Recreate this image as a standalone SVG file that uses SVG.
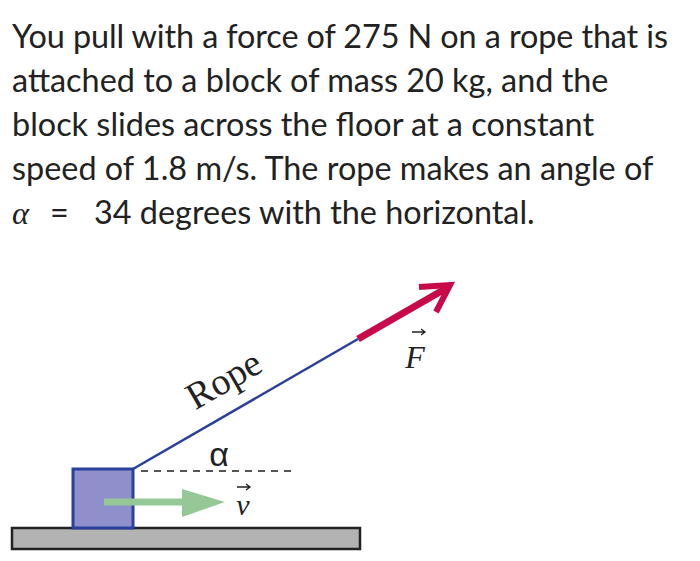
<svg xmlns="http://www.w3.org/2000/svg" width="700" height="561" viewBox="0 0 700 561">
<style>
.t{font-family:Lato,"Open Sans",sans-serif;font-size:32.4px;fill:#222}
.s{font-family:"Liberation Serif",serif;fill:#222}
.va{stroke:#222;stroke-width:1.3;fill:none}
</style>
<rect width="700" height="561" fill="#fff"/>
<g id="text">
<text class="t" x="12" y="48" textLength="656">You pull with a force of 275 N on a rope that is</text>
<text class="t" x="12" y="92">attached to a block of mass 20 kg, and the</text>
<text class="t" x="12" y="136">block slides across the floor at a constant</text>
<text class="t" x="12" y="180">speed of 1.8 m/s. The rope makes an angle of</text>
<text class="t" x="12" y="224"><tspan font-family="Liberation Serif,serif" font-style="italic">α</tspan><tspan x="50">=</tspan><tspan x="94">34 degrees with the horizontal.</tspan></text>
</g>
<g id="floor"><rect x="12" y="528" width="348" height="21" fill="#b3b3b3" stroke="#222" stroke-width="2.5"/></g>
<g id="block"><rect x="73" y="469" width="60" height="59" fill="#8f8fcc" stroke="#2b3f9c" stroke-width="3"/></g>
<g id="connectors">
<line x1="133" y1="469" x2="358" y2="339" stroke="#2b3f9c" stroke-width="2.5"/>
<line x1="358" y1="339" x2="445" y2="289" stroke="#c80a4a" stroke-width="7"/>
<path d="M419,287 L450,285 L436,312" fill="none" stroke="#c80a4a" stroke-width="6" stroke-linejoin="miter"/>
<line x1="141" y1="471" x2="292" y2="471" stroke="#555" stroke-width="2" stroke-dasharray="7,6"/>
<line x1="104" y1="502" x2="184" y2="502" stroke="#96c796" stroke-width="7"/>
<polygon points="182,489 225,502 182,517" fill="#96c796"/>
</g>
<g id="labels">
<text class="s" x="224" y="392" font-size="38" text-anchor="middle" transform="rotate(-30 224 380)">Rope</text>
<text x="219" y="466" font-family="Liberation Sans,sans-serif" font-size="34" text-anchor="middle" fill="#222">α</text>
<text class="s" x="243" y="515" font-size="30" font-style="italic" text-anchor="middle">v</text>
<path class="va" d="M237,487 H250 M246,484 L250,487 L246,490"/>
<text class="s" x="415" y="368" font-size="32" font-style="italic" text-anchor="middle">F</text>
<path class="va" d="M412,332 H425 M421,329 L425,332 L421,335"/>
</g>
</svg>
